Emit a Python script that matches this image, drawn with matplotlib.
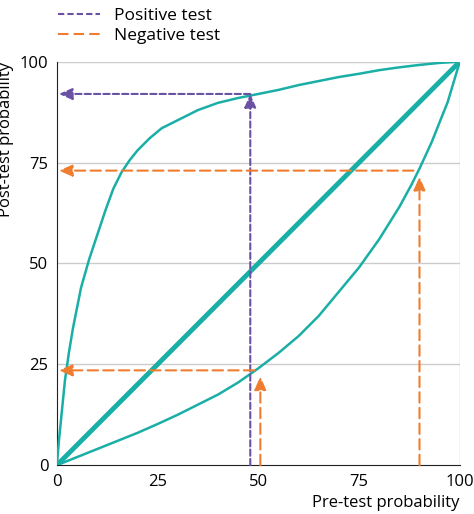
import matplotlib
matplotlib.use("Agg")
import matplotlib.pyplot as plt
from matplotlib.lines import Line2D

plt.rcParams['font.family'] = ['Open Sans', 'DejaVu Sans']

up_x = [0, 0.5, 1, 2, 3, 4, 5, 6, 7, 8, 10, 12, 14, 16, 18, 20, 23, 26, 30, 35, 40, 45, 50, 55, 60, 65, 70, 75, 80, 85, 90, 95, 100]
up_y = [0, 6, 11, 21, 28, 34, 39, 44, 47.5, 51, 57, 63, 68.5, 72.5, 75.5, 78, 81, 83.5, 85.5, 88, 89.8, 91, 92, 93, 94.2, 95.2, 96.2, 97, 97.9, 98.6, 99.2, 99.7, 100]
lo_x = [0, 5, 10, 15, 20, 25, 30, 35, 40, 45, 50, 55, 60, 65, 70, 75, 80, 85, 88, 90, 93, 95, 97, 100]
lo_y = [0, 2, 4, 6, 8, 10.2, 12.5, 15, 17.5, 20.5, 24, 27.8, 32, 37, 43, 49, 56, 64, 69.5, 73.5, 80, 85, 90, 100]
diag = [0, 100]
yticks = [0, 25, 50, 75, 100]
xticks = [0, 25, 50, 75, 100]
pos_pre, pos_post = 48, 92
neg_pre1, neg_post1 = 50.5, 23.5
neg_pre2, neg_post2 = 90, 73

teal = '#1aafa6'
purple = '#6a51a3'
orange = '#ee7d2f'

fig = plt.figure(figsize=(4.74, 5.14), dpi=100)
ax = fig.add_axes([0.12, 0.095, 0.85, 0.785])
ax.set_xlim(0, 100)
ax.set_ylim(0, 100)
for y in yticks[1:]:
    ax.axhline(y, color='#cccccc', lw=1, zorder=0)
ax.axvline(100, color='#cccccc', lw=1, zorder=0)

ax.plot(up_x, up_y, color=teal, lw=1.8, zorder=3)
ax.plot(lo_x, lo_y, color=teal, lw=1.8, zorder=3)
ax.plot(diag, diag, color=teal, lw=3.5, zorder=3)

def arrow(x0, y0, x1, y1, c, ls):
    ax.annotate('', xy=(x1, y1), xytext=(x0, y0),
                arrowprops=dict(arrowstyle='-|>,head_length=0.8,head_width=0.35', color=c,
                                lw=1.5, linestyle=ls, shrinkA=0, shrinkB=0), zorder=4)

arrow(pos_pre, 0, pos_pre, pos_post, purple, (0, (3, 1.5)))
arrow(pos_pre, pos_post, 0.5, pos_post, purple, (0, (3, 1.5)))
arrow(neg_pre1, 0, neg_pre1, neg_post1 - 1.5, orange, (0, (5, 2.5)))
arrow(neg_pre1 - 1.5, neg_post1, 0.5, neg_post1, orange, (0, (5, 2.5)))
arrow(neg_pre2, 0, neg_pre2, neg_post2 - 1.5, orange, (0, (5, 2.5)))
arrow(neg_pre2 - 1.5, neg_post2, 0.5, neg_post2, orange, (0, (5, 2.5)))

for s in ['top', 'right']:
    ax.spines[s].set_visible(False)
ax.spines['left'].set_color('#222222')
ax.spines['bottom'].set_color('#222222')
ax.set_xticks(xticks)
ax.set_yticks(yticks)
ax.tick_params(length=0, labelsize=12, pad=6)
ax.set_xlabel('Pre-test probability', fontsize=12, loc='right')
ax.set_ylabel('Post-test probability', fontsize=12, loc='top')

handles = [Line2D([], [], color=purple, lw=1.5, ls=(0, (3, 1.5))),
           Line2D([], [], color=orange, lw=1.5, ls=(0, (5, 2.5)))]
fig.legend(handles, ['Positive test', 'Negative test'], loc='upper left',
           bbox_to_anchor=(0.09, 1.015), frameon=False, fontsize=12.5,
           handlelength=2.4, labelspacing=0.2)
fig.savefig('out.png', dpi=100)
